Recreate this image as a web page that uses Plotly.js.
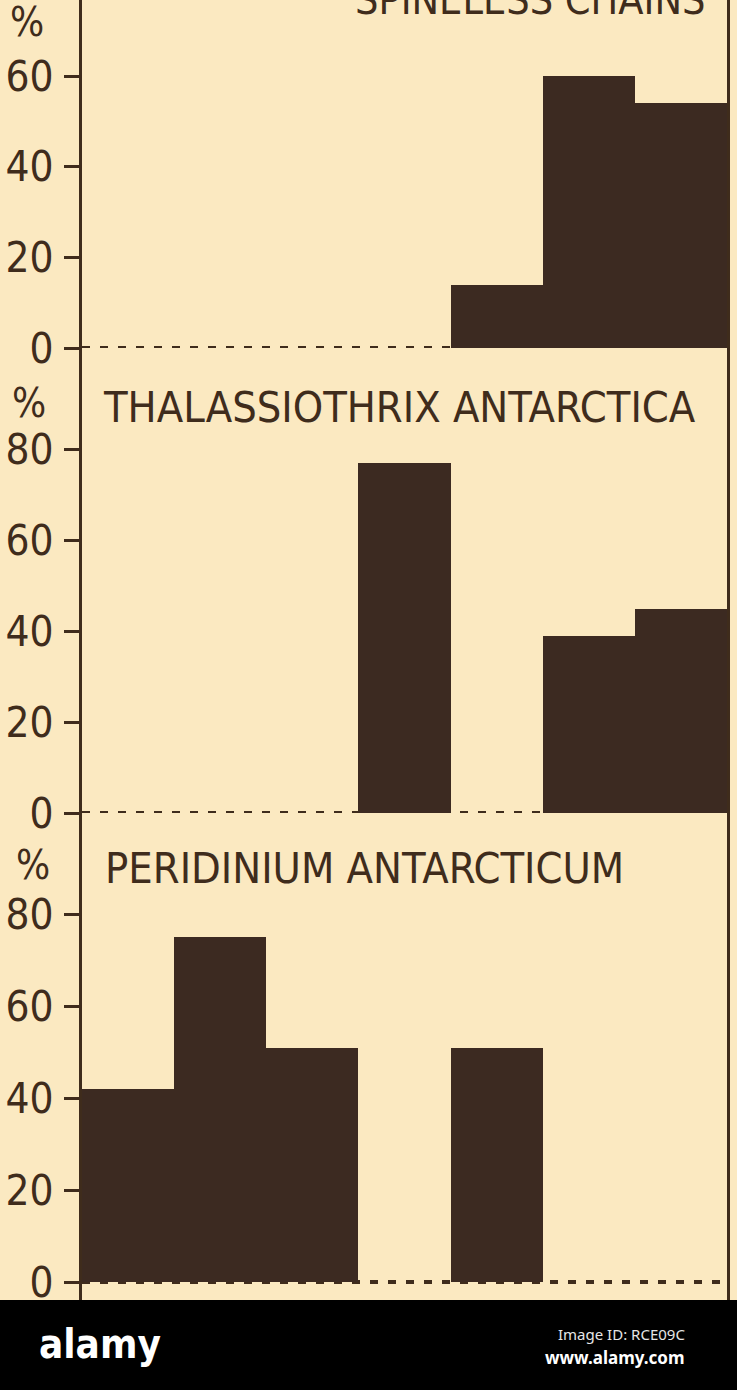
<!DOCTYPE html>
<html>
<head>
<meta charset="utf-8">
<script src="https://cdn.plot.ly/plotly-3.0.1.min.js"></script>
<style>
html,body{margin:0;padding:0;background:#fbe9c1;}
#chart{width:737px;height:1390px;}
</style>
</head>
<body>
<div id="chart"></div>
<script>
// Data (percent per station bin)
const bins = [0, 1, 2, 3, 4, 5, 6];
const spinelessChains = [null, null, null, null, 14, 60, 54];
const thalassiothrix = [null, null, null, 77, null, 39, 45];
const peridinium = [42, 75, 51, null, 51, null, null];
const titles = ["SPINELESS CHAINS", "THALASSIOTHRIX ANTARCTICA", "PERIDINIUM ANTARCTICUM"];
const ticks1 = [0, 20, 40, 60];
const ticks2 = [0, 20, 40, 60, 80];
const ticks3 = [0, 20, 40, 60, 80];

const W = 737, H = 1390;
const py = p => 1 - p / H;
const px = p => p / W;
const ink = '#3f2c1c';
const barCol = '#3c2a21';
const bg = '#fbe9c1';

function barTrace(y, xa, ya) {
  return {type: 'bar', x: bins, y: y, width: 1, xaxis: xa, yaxis: ya,
          marker: {color: barCol, line: {width: 0}}, hoverinfo: 'skip'};
}

const data = [
  barTrace(spinelessChains, 'x', 'y'),
  barTrace(thalassiothrix, 'x2', 'y2'),
  barTrace(peridinium, 'x3', 'y3')
];

const xdom = [px(82), px(727)];
function xax(anchor) {
  return {domain: xdom, range: [-0.5, 6.5], visible: false, anchor: anchor, fixedrange: true};
}
function yax(dom, rng, tv, anchor) {
  return {domain: dom, range: rng, tickvals: tv, ticktext: tv.map(String), anchor: anchor,
          showline: true, linecolor: ink, linewidth: 3, mirror: true,
          ticks: 'outside', ticklen: 15, tickwidth: 3, tickcolor: ink,
          ticklabelstandoff: 2,
          showgrid: false, zeroline: false,
          tickfont: {family: 'DejaVu Sans Condensed', size: 42, color: ink}};
}

function dashLine(xr, yr) {
  return {type: 'line', xref: xr, yref: yr, x0: -0.5, x1: 6.5, y0: 0, y1: 0,
          line: {color: ink, width: 4, dash: '8px,10px'}, layer: 'below'};
}

const tfont = {family: 'DejaVu Sans Condensed', size: 43, color: ink};
const pfont = {family: 'DejaVu Sans Condensed', size: 40, color: ink};
const annotations = [
  {text: titles[0], xref: 'paper', yref: 'paper', x: px(707), y: py(0), xanchor: 'right', yanchor: 'middle', showarrow: false, font: {family: 'DejaVu Sans Condensed', size: 41, color: ink}},
  {text: titles[1], xref: 'paper', yref: 'paper', x: px(101), y: py(407), xanchor: 'left', yanchor: 'middle', showarrow: false, font: tfont},
  {text: titles[2], xref: 'paper', yref: 'paper', x: px(103), y: py(868), xanchor: 'left', yanchor: 'middle', showarrow: false, font: tfont},
  {text: '%', xref: 'paper', yref: 'paper', x: px(27), y: py(22), xanchor: 'center', yanchor: 'middle', showarrow: false, font: pfont},
  {text: '%', xref: 'paper', yref: 'paper', x: px(29), y: py(403), xanchor: 'center', yanchor: 'middle', showarrow: false, font: pfont},
  {text: '%', xref: 'paper', yref: 'paper', x: px(33), y: py(865), xanchor: 'center', yanchor: 'middle', showarrow: false, font: pfont},
  {text: '<b>alamy</b>', xref: 'paper', yref: 'paper', x: px(100), y: py(1344), xanchor: 'center', yanchor: 'middle', showarrow: false, font: {family: 'DejaVu Sans Condensed', size: 40, color: '#ffffff'}},
  {text: 'Image ID: RCE09C', xref: 'paper', yref: 'paper', x: px(687), y: py(1334), xanchor: 'right', yanchor: 'middle', showarrow: false, font: {family: 'Noto Sans', size: 15, color: '#e6e6e6'}},
  {text: '<b>www.alamy.com</b>', xref: 'paper', yref: 'paper', x: px(687), y: py(1357), xanchor: 'right', yanchor: 'middle', showarrow: false, font: {family: 'Noto Sans', size: 17, color: '#ffffff'}}
];

const layout = {
  width: W, height: H,
  margin: {l: 0, r: 0, t: 0, b: 0, pad: 0},
  paper_bgcolor: bg, plot_bgcolor: bg,
  showlegend: false, bargap: 0,
  xaxis: xax('y'), xaxis2: xax('y2'), xaxis3: xax('y3'),
  yaxis: yax([py(348), 1], [0, 76.8], ticks1, 'x'),
  yaxis2: yax([py(813), py(348)], [0, 102.4], ticks2, 'x2'),
  yaxis3: yax([py(1300), py(813)], [-3.9, 102], ticks3, 'x3'),
  shapes: [
    dashLine('x', 'y'), dashLine('x2', 'y2'), dashLine('x3', 'y3'),
    {type: 'rect', xref: 'paper', yref: 'paper', x0: 0, x1: 1, y0: 0, y1: py(1300),
     fillcolor: '#000000', line: {width: 0}, layer: 'above'}
  ],
  annotations: annotations
};

Plotly.newPlot('chart', data, layout, {staticPlot: true, displayModeBar: false});
</script>
</body>
</html>
